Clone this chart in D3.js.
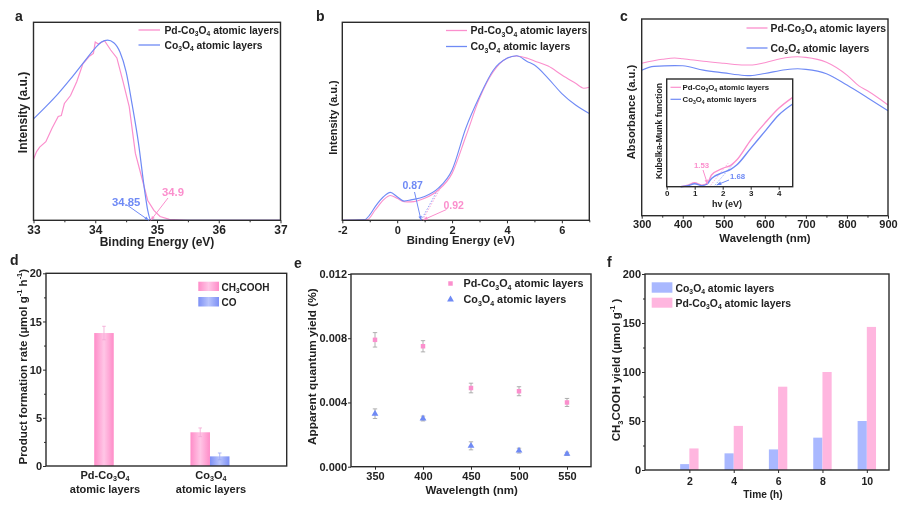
<!DOCTYPE html>
<html>
<head>
<meta charset="utf-8">
<script src="https://cdn.jsdelivr.net/npm/d3@7/dist/d3.min.js"></script>
<style>
html,body{margin:0;padding:0;background:#fff;}
svg{display:block;filter:blur(0.4px);}
text{font-family:"Liberation Sans",Arial,sans-serif;font-weight:bold;fill:#222;}
</style>
</head>
<body>
<svg id="chart" width="900" height="505"></svg>
<script>
var PINK = "#fb8fcd", BLUE = "#6f8af5", INK = "#2b2b2b";
var PD_LABEL = "Pd-Co_3O_4 atomic layers", CO_LABEL = "Co_3O_4 atomic layers";

// panel a, UPS cutoff
var aPdX = [33,33.05,33.1,33.2,33.3,33.4,33.45,33.5,33.6,33.7,33.8,33.9,33.97,34,34.05,34.15,34.25,34.35,34.45,34.55,34.65,34.75,34.85,34.95,35.05,35.2,35.5,37];
var aPdY = [30.8,34.7,37,39.7,46.5,52.4,52.9,59,63,70,79,82.7,84.3,90,89,90.7,86,82,70,57.4,33.8,22,10,5,1.9,0.5,0,0];
var aCoX = [33,33.2,33.4,33.6,33.8,34,34.1,34.2,34.3,34.4,34.5,34.6,34.7,34.8,34.85,34.9,37];
var aCoY = [51.2,57.4,64,71.4,79.3,87,90,91,89.7,85,75,58,39,15,5,0,0];

// panel b, valence band
var bPdX = [-2,-1.1,-0.8,-0.5,-0.25,0,0.25,0.5,1,1.5,2,2.5,3,3.5,4,4.35,4.75,5,5.5,6,6.5,6.8,7];
var bPdY = [0,0.2,5.2,10.3,12.5,11.1,9.4,9.3,11.1,15.3,23.7,42.3,61.6,75,81.8,83,81.8,80.5,77.9,73.4,69.2,66.7,67.2];
var bCoX = [-2,-1.2,-1,-0.8,-0.5,-0.25,0,0.25,0.5,1,1.5,2,2.5,3,3.5,4,4.35,4.75,5,5.5,6,6.5,7];
var bCoY = [0,0.2,2.7,6.9,11.9,14.1,11.9,9.7,10.3,12,16.2,25.4,46.5,62.5,75.8,81.8,83.1,80.1,78.4,71.7,64,58.2,53.9];

// panel c, absorbance
var cPdX = [300,350,380,400,450,500,550,570,600,650,680,700,750,800,830,850,900];
var cPdY = [77.5,79.5,80.2,79.8,78.5,77.5,76.6,76.6,77.8,80.3,80.8,80.5,78,71.5,65.9,63.5,56.3];
var cCoX = [300,330,380,400,450,500,550,565,600,650,680,700,750,800,850,900];
var cCoY = [74,75.9,76.3,76.2,74,72.6,71.3,71.2,72.3,74.2,74.7,74.4,72.2,66.4,60,53.4];

// panel c inset, Kubelka-Munk
var insetX = [0.5,0.75,1,1.25,1.45,1.6,2,2.3,2.5,3,3.5,4,4.5];
var insetPdY = [0,1.5,3.7,1.5,3.1,10.8,17,20.1,24.8,43.3,58.8,72.8,83];
var insetCoY = [0,0.9,2.8,0.9,2.5,7.7,13,16.4,20.1,35.6,51.1,66.6,76.8];

// panel d, formation rate
var dCategories = ["Pd-Co_3O_4", "Co_3O_4"];
var dAcetic = [13.8, 3.5];
var dAceticErr = [0.7, 0.45];
var dCoValues = [null, 1.0];
var dCoErr = [null, 0.35];

// panel e, quantum yield
var eWavelengths = [350,400,450,500,550];
var ePd = [0.0079,0.0075,0.0049,0.0047,0.0040];
var ePdErr = [0.00045,0.00035,0.0003,0.00028,0.00025];
var eCo = [0.0033,0.0030,0.0013,0.0010,0.0008];
var eCoErr = [0.0003,0.00015,0.00025,0.00015,0.0001];

// panel f, yield over time
var fTimes = [2,4,6,8,10];
var fCo = [6,17,21,33,50];
var fPd = [22,45,85,100,146];

var svg = d3.select("#chart");

function makeGradient(id, edge, mid){
    var g = svg.append("defs").append("linearGradient").attr("id", id);
    g.append("stop").attr("offset", "0%").attr("stop-color", edge);
    g.append("stop").attr("offset", "50%").attr("stop-color", mid);
    g.append("stop").attr("offset", "100%").attr("stop-color", edge);
}
makeGradient("pinkBar", "#ff8cc8", "#ffc6e6");
makeGradient("blueBar", "#7d90f5", "#b8c4fc");

// _3 goes down, ^-1 goes up, everything else stays on the baseline
function richText(sel, str){
    var parts = str.match(/_[0-9]+|\^[-0-9]+|[^_^]+/g);
    var size = parseFloat(sel.attr("font-size"));
    var back = 0;
    parts.forEach(function(p){
        var span = sel.append("tspan");
        if(p[0]=="_" || p[0]=="^"){
            var shift = (p[0]=="_" ? 0.25 : -0.4)*size;
            span.attr("dy", shift+back).attr("font-size", size*0.65).text(p.slice(1));
            back = -shift;
        }else{
            span.attr("dy", back).attr("font-size", size).text(p);
            back = 0;
        }
    });
    return sel;
}

function label(x, y, str, size, opt){
    opt = opt || {};
    var t = svg.append("text")
        .attr("x", x).attr("y", y)
        .attr("font-size", size)
        .attr("text-anchor", opt.anchor || "start");
    if(opt.color) t.style("fill", opt.color);
    if(opt.rotate) t.attr("transform", "rotate(-90 "+x+" "+y+")");
    return richText(t, str);
}

function panel(x0, x1, y0, y1, xDomain, yDomain){
    return {
        x: d3.scaleLinear().domain(xDomain).range([x0, x1]),
        y: d3.scaleLinear().domain(yDomain).range([y1, y0]),
        x0:x0, x1:x1, y0:y0, y1:y1
    };
}

function drawFrame(p){
    svg.append("rect")
        .attr("x", p.x0).attr("y", p.y0)
        .attr("width", p.x1-p.x0).attr("height", p.y1-p.y0)
        .attr("fill", "none").attr("stroke", INK).attr("stroke-width", 1.4);
}

function styleAxis(g, size){
    g.select(".domain").remove();
    g.selectAll("line").attr("stroke", INK).attr("stroke-width", 1);
    g.selectAll("text").attr("font-size", size);
}

function bottomAxis(p, major, minor, size, pad, fmt){
    var g = svg.append("g").attr("transform", "translate(0,"+p.y1+")")
        .call(d3.axisBottom(p.x).tickValues(major).tickSize(3).tickPadding(pad).tickFormat(fmt || d3.format("d")));
    styleAxis(g, size);
    if(minor){
        var m = svg.append("g").attr("transform", "translate(0,"+p.y1+")")
            .call(d3.axisBottom(p.x).tickValues(minor).tickSize(2).tickFormat(""));
        m.selectAll("text").remove();
        styleAxis(m, size);
    }
}

function leftAxis(p, major, minor, size, fmt){
    var g = svg.append("g").attr("transform", "translate("+p.x0+",0)")
        .call(d3.axisLeft(p.y).tickValues(major).tickSize(3).tickPadding(1).tickFormat(fmt || d3.format("d")));
    styleAxis(g, size);
    if(minor){
        var m = svg.append("g").attr("transform", "translate("+p.x0+",0)")
            .call(d3.axisLeft(p.y).tickValues(minor).tickSize(2).tickFormat(""));
        m.selectAll("text").remove();
        styleAxis(m, size);
    }
}

function drawLine(p, xs, ys, color, width, curve){
    var line = d3.line()
        .x(function(d,i){ return p.x(xs[i]); })
        .y(function(d){ return p.y(d); })
        .curve(curve || d3.curveMonotoneX);
    svg.append("path").datum(ys)
        .attr("d", line).attr("fill", "none")
        .attr("stroke", color).attr("stroke-width", width);
}

function segment(x1, y1, x2, y2, color, width, dash){
    svg.append("line")
        .attr("x1", x1).attr("y1", y1).attr("x2", x2).attr("y2", y2)
        .attr("stroke", color).attr("stroke-width", width)
        .attr("stroke-dasharray", dash || null);
}

// thin line with a small filled head at the (x2,y2) end
function arrow(x1, y1, x2, y2, color, head){
    segment(x1, y1, x2, y2, color, 1);
    var a = Math.atan2(y2-y1, x2-x1), h = head || 4.5;
    var pts = [[x2,y2],
        [x2-h*Math.cos(a-0.4), y2-h*Math.sin(a-0.4)],
        [x2-h*Math.cos(a+0.4), y2-h*Math.sin(a+0.4)]];
    svg.append("polygon").attr("points", pts.join(" ")).attr("fill", color);
}

function lineLegend(x1, x2, textX, yLine, str, color, size, width){
    segment(x1, yLine, x2, yLine, color, width);
    label(textX, yLine+size*0.36, str, size);
}

function errorBars(p, xs, ys, errs, color, capHalf, width){
    xs.forEach(function(x,i){
        if(ys[i]===null) return;
        var cx = p.x(x), top = p.y(ys[i]+errs[i]), bot = p.y(ys[i]-errs[i]);
        segment(cx, top, cx, bot, color, width);
        segment(cx-capHalf, top, cx+capHalf, top, color, width);
        segment(cx-capHalf, bot, cx+capHalf, bot, color, width);
    });
}

// ---- a
var pa = panel(33.5, 280.5, 22.3, 220.3, [33,37], [0,100]);
drawLine(pa, aPdX, aPdY, PINK, 1.2, d3.curveLinear);
drawLine(pa, aCoX, aCoY, BLUE, 1.2);
drawFrame(pa);
bottomAxis(pa, [33,34,35,36,37], [33.5,34.5,35.5,36.5], 12, 2);
arrow(127, 205, pa.x(34.85)+1, pa.y(0), BLUE);
arrow(168, 198, pa.x(34.9), pa.y(0), PINK);
label(112, 206, "34.85", 11.3, {color:BLUE});
label(162, 195.7, "34.9", 11.3, {color:PINK});
lineLegend(138.5, 160, 164.5, 30, PD_LABEL, PINK, 10.3, 1.3);
lineLegend(138.5, 160, 164.5, 45, CO_LABEL, BLUE, 10.3, 1.3);
label(27, 112.5, "Intensity (a.u.)", 12, {rotate:true, anchor:"middle"});
label(157, 246, "Binding Energy (eV)", 12, {anchor:"middle"});

// ---- b
var pb = panel(342.3, 589.3, 22.3, 220.3, [-2,7], [0,100]);
segment(pb.x(0.92), pb.y(0), pb.x(1.6), pb.y(17), PINK, 0.8, "1.5,1.5");
segment(pb.x(0.87), pb.y(0), pb.x(1.5), pb.y(16), BLUE, 0.8, "1.5,1.5");
drawLine(pb, bPdX, bPdY, PINK, 1.1);
drawLine(pb, bCoX, bCoY, BLUE, 1.1);
drawFrame(pb);
bottomAxis(pb, [-2,0,2,4,6], [-1,1,3,5,7], 11, 2.5, function(d){ return String(d); });
arrow(414.5, 192, pb.x(0.87), pb.y(0), BLUE);
arrow(446.5, 209.5, pb.x(0.92)+1, pb.y(0)-0.5, PINK);
label(402.5, 189, "0.87", 10.5, {color:BLUE});
label(443.5, 209, "0.92", 10.5, {color:PINK});
lineLegend(446, 467, 470.5, 30.5, PD_LABEL, PINK, 10.5, 1.3);
lineLegend(446, 467, 470.5, 46.5, CO_LABEL, BLUE, 10.5, 1.3);
label(337, 117.5, "Intensity (a.u.)", 11, {rotate:true, anchor:"middle"});
label(460.7, 244, "Binding Energy (eV)", 11.3, {anchor:"middle"});

// ---- c
var pc = panel(641.7, 888, 19, 215.7, [300,900], [0,100]);
drawLine(pc, cPdX, cPdY, PINK, 1.1);
drawLine(pc, cCoX, cCoY, BLUE, 1.1);
drawFrame(pc);
bottomAxis(pc, [300,400,500,600,700,800,900], [350,450,550,650,750,850], 11, 1.3);
lineLegend(746.5, 767.5, 770.5, 28, PD_LABEL, PINK, 10.4, 1.3);
lineLegend(746.5, 767.5, 770.5, 48, CO_LABEL, BLUE, 10.4, 1.3);
label(635, 112, "Absorbance (a.u.)", 11.2, {rotate:true, anchor:"middle"});
label(765, 242, "Wavelength (nm)", 11.4, {anchor:"middle"});

// inset
var pi = panel(666.7, 792.7, 79, 186.7, [0,4.5], [0,100]);
segment(pi.x(1.53), pi.y(0), pi.x(2.2), pi.y(22), PINK, 0.7, "1.2,1.2");
segment(pi.x(1.68), pi.y(0), pi.x(2.4), pi.y(22), BLUE, 0.7, "1.2,1.2");
drawLine(pi, insetX, insetPdY, PINK, 1.4);
drawLine(pi, insetX, insetCoY, BLUE, 1.4);
drawFrame(pi);
bottomAxis(pi, [0,1,2,3,4], null, 8, 1);
arrow(703, 170, 707.5, 184, PINK, 4.5);
arrow(729, 180, 716.7, 185, BLUE, 5);
label(694, 167.7, "1.53", 7.8, {color:PINK});
label(730, 179, "1.68", 7.8, {color:BLUE});
lineLegend(670.5, 681, 682.5, 87.3, PD_LABEL, PINK, 7.8, 1.2);
lineLegend(670.5, 681, 682.5, 99.3, CO_LABEL, BLUE, 7.8, 1.2);
label(662, 131, "Kubelka-Munk function", 8.7, {rotate:true, anchor:"middle"});
label(727, 207, "hv (eV)", 9, {anchor:"middle"});

// ---- d
var pd = panel(46, 286.7, 273.3, 466, [-0.547,1.724], [0,20]);
var dWidth = 0.184;
dAcetic.forEach(function(v,i){
    // the first group has no CO bar, so its acetic bar sits on the label
    var left = i==0 ? i-dWidth/2 : i-dWidth;
    svg.append("rect")
        .attr("x", pd.x(left)).attr("y", pd.y(v))
        .attr("width", pd.x(left+dWidth)-pd.x(left)).attr("height", pd.y(0)-pd.y(v))
        .attr("fill", "url(#pinkBar)");
});
dCoValues.forEach(function(v,i){
    if(v===null) return;
    svg.append("rect")
        .attr("x", pd.x(i)).attr("y", pd.y(v))
        .attr("width", pd.x(i+dWidth)-pd.x(i)).attr("height", pd.y(0)-pd.y(v))
        .attr("fill", "url(#blueBar)");
});
errorBars(pd, [0, 1-dWidth/2], dAcetic, dAceticErr, "#f3a6d3", 1.8, 0.8);
errorBars(pd, [0, 1+dWidth/2], dCoValues, dCoErr, "#9aa8f5", 1.8, 0.8);
drawFrame(pd);
leftAxis(pd, [0,5,10,15,20], [2.5,7.5,12.5,17.5], 11);
dCategories.forEach(function(c,i){
    label(pd.x(i)+1, 478.5, c, 11, {anchor:"middle"});
    label(pd.x(i)+1, 493, "atomic layers", 11, {anchor:"middle"});
});
svg.append("rect").attr("x",198.3).attr("y",281.7).attr("width",20.7).attr("height",9.3).attr("fill","url(#pinkBar)");
svg.append("rect").attr("x",198.3).attr("y",297).attr("width",20.7).attr("height",9.5).attr("fill","url(#blueBar)");
label(221.5, 290.5, "CH_3COOH", 10);
label(221.5, 305.5, "CO", 10);
label(27, 366.7, "Product formation rate (\u00b5mol g^-1 h^-1)", 11.5, {rotate:true, anchor:"middle"});

// ---- e
var pe = panel(351, 591, 274, 466.7, [325,575], [0,0.012]);
var errGray = "#9c9c9c";
errorBars(pe, eWavelengths, ePd, ePdErr, errGray, 2.2, 0.8);
errorBars(pe, eWavelengths, eCo, eCoErr, errGray, 2.2, 0.8);
svg.selectAll(".pdMark").data(ePd).enter().append("path")
    .attr("class", "pdMark")
    .attr("d", d3.symbol().type(d3.symbolSquare).size(20))
    .attr("transform", function(d,i){ return "translate("+pe.x(eWavelengths[i])+","+pe.y(d)+")"; })
    .attr("fill", PINK);
svg.selectAll(".coMark").data(eCo).enter().append("path")
    .attr("class", "coMark")
    .attr("d", d3.symbol().type(d3.symbolTriangle).size(20))
    .attr("transform", function(d,i){ return "translate("+pe.x(eWavelengths[i])+","+pe.y(d)+")"; })
    .attr("fill", BLUE);
drawFrame(pe);
leftAxis(pe, [0,0.004,0.008,0.012], null, 11, d3.format(".3f"));
bottomAxis(pe, eWavelengths, null, 11, 2.3);
svg.append("path").attr("d", d3.symbol().type(d3.symbolSquare).size(20))
    .attr("transform", "translate(450.5,283.5)").attr("fill", PINK);
svg.append("path").attr("d", d3.symbol().type(d3.symbolTriangle).size(20))
    .attr("transform", "translate(450.5,299.5)").attr("fill", BLUE);
label(463.5, 287, PD_LABEL, 10.8);
label(463.5, 303, CO_LABEL, 10.8);
label(316, 366.7, "Apparent quantum yield (%)", 11.8, {rotate:true, anchor:"middle"});
label(471.7, 494, "Wavelength (nm)", 11.5, {anchor:"middle"});

// ---- f
var pf = panel(645, 889, 274, 470, [0,11], [0,200]);
var fWidth = 0.415;
function timeBars(name, values, offset, color){
    svg.selectAll("."+name).data(values).enter().append("rect")
        .attr("class", name)
        .attr("x", function(d,i){ return pf.x(fTimes[i]+offset); })
        .attr("y", function(d){ return pf.y(d); })
        .attr("width", pf.x(fWidth)-pf.x(0))
        .attr("height", function(d){ return pf.y(0)-pf.y(d); })
        .attr("fill", color);
}
timeBars("fCoBar", fCo, -fWidth, "#a9b8ff");
timeBars("fPdBar", fPd, 0, "#ffb6df");
drawFrame(pf);
leftAxis(pf, [0,50,100,150,200], [25,75,125,175], 11);
bottomAxis(pf, fTimes, null, 10.5, 5);
svg.append("rect").attr("x",651.7).attr("y",282.3).attr("width",20.7).attr("height",10.4).attr("fill","#a9b8ff");
svg.append("rect").attr("x",651.7).attr("y",297.7).attr("width",20.7).attr("height",10).attr("fill","#ffb6df");
label(675.5, 291.5, CO_LABEL, 10.4);
label(675.5, 306.5, PD_LABEL, 10.4);
label(620, 370, "CH_3COOH yield (\u00b5mol g^-1 )", 11.5, {rotate:true, anchor:"middle"});
label(763, 498, "Time (h)", 10.2, {anchor:"middle"});

// panel letters
label(15, 21, "a", 14);
label(316, 21, "b", 14);
label(620, 21, "c", 14);
label(10, 265, "d", 14);
label(294, 268, "e", 14);
label(607, 267, "f", 14);
</script>
</body>
</html>
